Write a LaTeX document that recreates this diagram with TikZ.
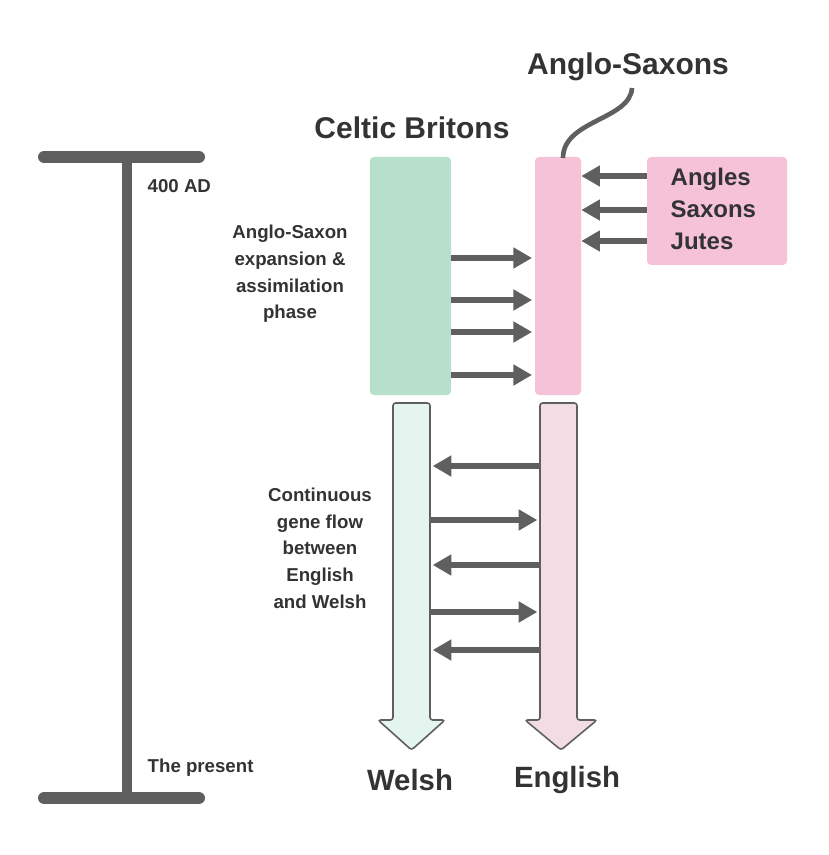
\documentclass[tikz,border=0pt]{standalone}
\usepackage{fontspec}
\setmainfont{Liberation Sans}
\usetikzlibrary{arrows.meta}
\definecolor{dg}{HTML}{5F5F5F}
\definecolor{tx}{HTML}{333333}
\definecolor{gr}{HTML}{B8DFCC}
\definecolor{pk}{HTML}{F5C2D8}
\definecolor{lgr}{HTML}{E3F5EE}
\definecolor{lpk}{HTML}{F2DDE5}
\begin{document}
\begin{tikzpicture}[x=0.75pt,y=-0.75pt,
  lbl/.style={font=\bfseries\fontsize{14}{17}\selectfont,text=tx,align=center},
  arr/.style={draw=dg,line width=5.2pt,-{Triangle[length=14pt,width=15pt]}},
  big/.style={draw=dg,line width=1.2pt,rounded corners=2pt}]
\useasboundingbox (0,0) rectangle (828,855);
% timeline
\draw[dg,line width=7.5pt] (127,157) -- (127,798);
\draw[dg,line width=9pt,line cap=round] (44,157) -- (199,157);
\draw[dg,line width=9pt,line cap=round] (44,798) -- (199,798);
\node[lbl,anchor=west] (t400) at (143,186) {400 AD};
\node[lbl,anchor=west] (tpres) at (143,768) {The present};
% top labels
\node[lbl,font=\bfseries\fontsize{22.5}{26}\selectfont] (cb) at (412,128) {Celtic Britons};
\node[lbl,font=\bfseries\fontsize{22.5}{26}\selectfont] (as) at (628,67) {Anglo-Saxons};
% rects
\node[draw=none,fill=gr,rounded corners=3pt,minimum width=61pt,minimum height=178.5pt,inner sep=0] (g) at (410.5,276) {};
\node[draw=none,fill=pk,rounded corners=3pt,minimum width=34.5pt,minimum height=178.5pt,inner sep=0] (p) at (558,276) {};
\coordinate (ct) at (632,88);
\draw[dg,line width=3.5pt] (563,158) .. controls (563,120) and (630,120) .. (ct);
\node[fill=pk,rounded corners=3pt,minimum width=105pt,minimum height=81pt,inner sep=0] (box) at (717,211) {};
\node[lbl,align=left,anchor=west,font=\bfseries\fontsize{18}{24}\selectfont] (boxt) at (666,209) {Angles\\Saxons\\Jutes};
\foreach \y in {176,210,241} \draw[arr] (box.west|-0,\y) -- (p.east|-0,\y);
\foreach \y in {258,300,332,375} \draw[arr] (g.east|-0,\y) -- ([xshift=-2]p.west|-0,\y);
\node[lbl,font=\bfseries\fontsize{14}{20}\selectfont] (exp) at (290,274) {Anglo-Saxon\\expansion \&\\assimilation\\phase};
% big arrows
\draw[big,fill=lgr] (393,403) -- (430,403) -- (430,720) -- (445,720) -- (411.5,750) -- (378,720) -- (393,720) -- cycle;
\draw[big,fill=lpk] (540,403) -- (577,403) -- (577,720) -- (597,720) -- (561,750) -- (525,720) -- (540,720) -- cycle;
\coordinate (wl) at (430,0); \coordinate (el) at (540,0);
\foreach \y in {466,565,650} \draw[arr] (el|-0,\y) -- ([xshift=2]wl|-0,\y);
\foreach \y in {520,612} \draw[arr] (wl|-0,\y) -- ([xshift=-2]el|-0,\y);
\node[lbl,font=\bfseries\fontsize{14}{20}\selectfont] (gf) at (320,548) {Continuous\\gene flow\\between\\English\\and Welsh};
\node[lbl,font=\bfseries\fontsize{22}{26}\selectfont] (w) at (410,780) {Welsh};
\node[lbl,font=\bfseries\fontsize{22}{26}\selectfont] (e) at (567,780) {English};
\end{tikzpicture}
\end{document}
